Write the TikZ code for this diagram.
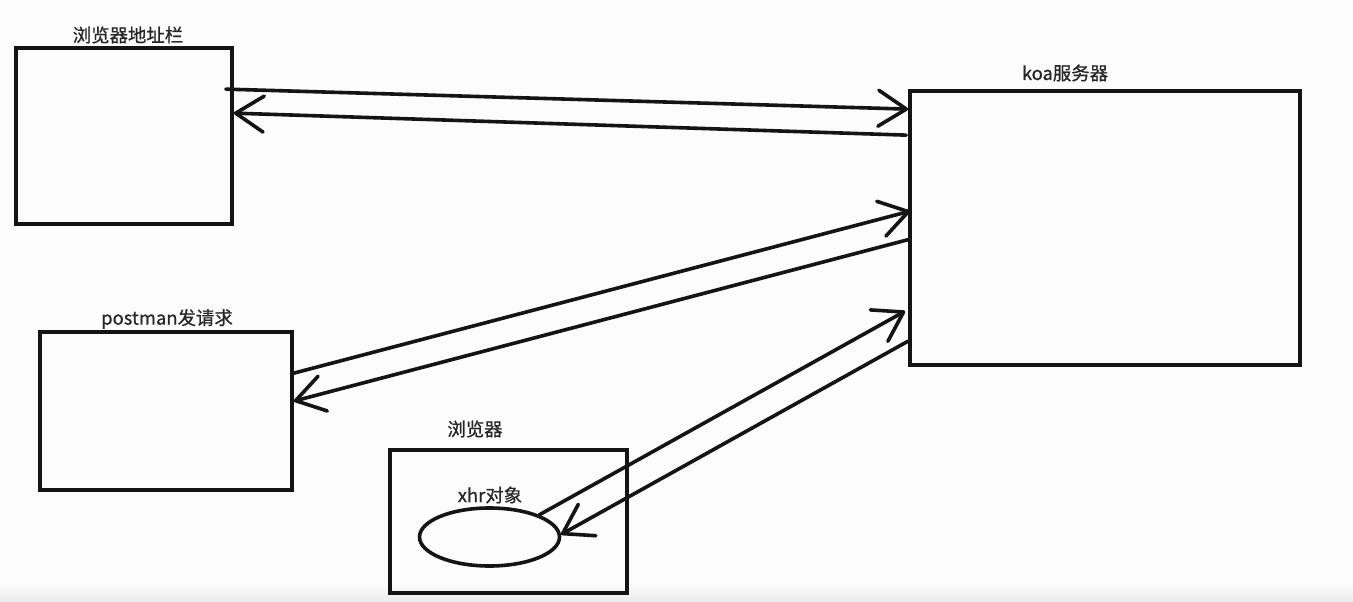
\documentclass[tikz,border=0pt]{standalone}
\usepackage{fontspec}
\setmainfont{Noto Sans CJK SC}[FakeBold=0.6]
\usetikzlibrary{arrows.meta,fit,shapes.geometric}
\begin{document}
\begin{tikzpicture}[x=0.75pt,y=-0.75pt,
  box/.style={draw=black!92, line width=2.8pt, inner sep=0pt},
  lbl/.style={font=\fontsize{13.8pt}{16pt}\selectfont, text=black!85, inner sep=0pt},
  conn/.style={draw=black!92, line width=2.7pt, line cap=round,
    -{Straight Barb[length=21pt,width=27pt,line cap=round,line join=round]}}]
\useasboundingbox (0,0) rectangle (1353,602);
\fill[black!1] (0,0) rectangle (1353,602);
\shade[top color=black!1, bottom color=black!8] (0,582) rectangle (1353,602);

% boxes
\node[box, fit={(16,48) (232,224)}] (addr) {};
\node[box, fit={(910,91) (1300,365)}] (koa) {};
\node[box, fit={(40,332) (292,490)}] (pm) {};
\node[box, fit={(390,450) (627,593)}] (br) {};
\node[draw=black!92, line width=2.7pt, ellipse, inner sep=0pt,
      minimum width=105pt, minimum height=43.5pt] (xhr) at (489.5,537) {};

% labels
\node[lbl] (laddr) at (128,35) {浏览器地址栏};
\node[lbl] (lkoa) at (1065,73) {koa服务器};
\node[lbl] (lpm) at (167,319) {postman发请求};
\node[lbl] (lbr) at (475,429) {浏览器};
\node[lbl] (lxhr) at (490,495) {xhr对象};

% connectors
\draw[conn] ([shift={(-8,43)}]addr.north east) -- ([shift={(0,20)}]koa.north west);
\draw[conn] ([shift={(-2,46)}]koa.north west) -- ([shift={(0,67)}]addr.north east);
\draw[conn] ([shift={(0,43)}]pm.north east) -- ([shift={(2,122)}]koa.north west);
\draw[conn] ([shift={(2,150)}]koa.north west) -- ([shift={(0,71)}]pm.north east);
\draw[conn] (xhr.24) -- ([shift={(-3,222)}]koa.north west);
\draw[conn] ([shift={(0,252)}]koa.north west) -- (xhr.2);
\end{tikzpicture}
\end{document}
